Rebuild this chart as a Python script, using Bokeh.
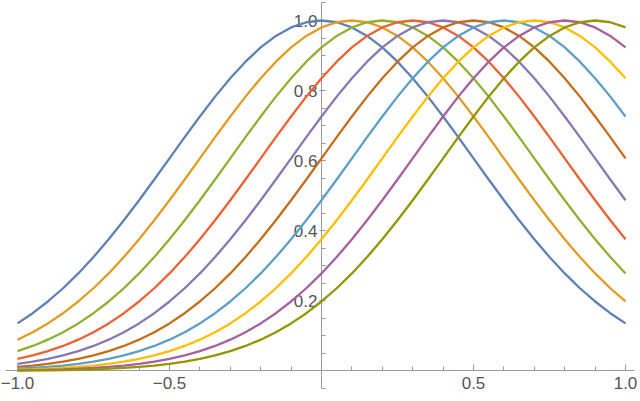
import numpy as np
from bokeh.plotting import figure
from bokeh.models import FixedTicker, Range1d
from bokeh.embed import file_html
from bokeh.resources import INLINE

centers = [0.0, 0.1, 0.2, 0.3, 0.4, 0.5, 0.6, 0.7, 0.8, 0.9]
colors = ["#5E81B5", "#E19C24", "#8FB032", "#EB6235", "#8778B3",
          "#C56E1A", "#5D9EC7", "#FFBF00", "#A5609D", "#929600"]

# Shared bell profile: height vs distance from the peak
profile_dist = [0.00, 0.05, 0.10, 0.15, 0.20, 0.25, 0.30, 0.35, 0.40, 0.45,
                0.50, 0.55, 0.60, 0.65, 0.70, 0.75, 0.80, 0.85, 0.90, 0.95,
                1.00, 1.05, 1.10, 1.15, 1.20, 1.25, 1.30, 1.35, 1.40, 1.45,
                1.50, 1.55, 1.60, 1.65, 1.70, 1.75, 1.80, 1.85, 1.90]
profile_height = [1.0000, 0.9950, 0.9802, 0.9560, 0.9231, 0.8825, 0.8353, 0.7827,
                  0.7261, 0.6670, 0.6065, 0.5461, 0.4868, 0.4296, 0.3753, 0.3247,
                  0.2780, 0.2357, 0.1979, 0.1645, 0.1353, 0.1103, 0.0889, 0.0710,
                  0.0561, 0.0439, 0.0340, 0.0261, 0.0198, 0.0149, 0.0111, 0.0082,
                  0.0060, 0.0043, 0.0031, 0.0022, 0.0015, 0.0011, 0.0007]

x_ticks = [-1.0, -0.5, 0.5, 1.0]
x_tick_labels = ["\u22121.0", "\u22120.5", "0.5", "1.0"]
x_minor = [-1.0, -0.9, -0.8, -0.7, -0.6, -0.5, -0.4, -0.3, -0.2, -0.1,
           0.1, 0.2, 0.3, 0.4, 0.5, 0.6, 0.7, 0.8, 0.9, 1.0]
y_ticks = [0.2, 0.4, 0.6, 0.8, 1.0]
y_tick_labels = ["0.2", "0.4", "0.6", "0.8", "1.0"]
y_minor = [-0.05, 0.05, 0.1, 0.15, 0.2, 0.25, 0.3, 0.35, 0.4, 0.45, 0.5,
           0.55, 0.6, 0.65, 0.7, 0.75, 0.8, 0.85, 0.9, 0.95, 1.0, 1.05]

p = figure(width=640, height=401, output_backend="svg", toolbar_location=None,
           x_range=Range1d(-1.0559, 1.0493), y_range=Range1d(-0.0876, 1.0571),
           min_border=0)
p.outline_line_color = None
p.grid.visible = False
p.background_fill_color = "white"
p.border_fill_color = "white"

dist = np.array(profile_dist)
height = np.array(profile_height)
offsets = np.concatenate([-dist[::-1], dist[1:]])
heights = np.concatenate([height[::-1], height[1:]])

for c, col in zip(centers, colors):
    xs = np.round(c + offsets, 6)
    mask = (xs >= -1.0) & (xs <= 1.0)
    p.line(xs[mask], heights[mask], line_color=col, line_width=2.3, level="overlay")

axis_col = "#9a9a9a"
label_col = "#555555"
for ax in (p.xaxis[0], p.yaxis[0]):
    ax.fixed_location = 0
    ax.axis_line_color = axis_col
    ax.major_tick_line_color = axis_col
    ax.minor_tick_line_color = axis_col
    ax.major_label_text_color = label_col
    ax.major_label_text_font = "Liberation Sans"
    ax.major_label_text_font_size = "17px"

p.xaxis.bounds = (-1.04, 1.03)
p.xaxis.ticker = FixedTicker(ticks=x_ticks, minor_ticks=x_minor)
p.xaxis.major_label_overrides = dict(zip(x_ticks, x_tick_labels))
p.xaxis.major_tick_in = 6
p.xaxis.major_tick_out = 0
p.xaxis.minor_tick_in = 4
p.xaxis.minor_tick_out = 0
p.xaxis.major_label_standoff = 6

p.yaxis.bounds = (-0.05, 1.05)
p.yaxis.ticker = FixedTicker(ticks=y_ticks, minor_ticks=y_minor)
p.yaxis.major_label_overrides = dict(zip(y_ticks, y_tick_labels))
p.yaxis.major_tick_in = 4
p.yaxis.major_tick_out = 2
p.yaxis.minor_tick_in = 4
p.yaxis.minor_tick_out = 0
p.yaxis.major_label_standoff = 2

open("out.html", "w").write(file_html(p, INLINE))
